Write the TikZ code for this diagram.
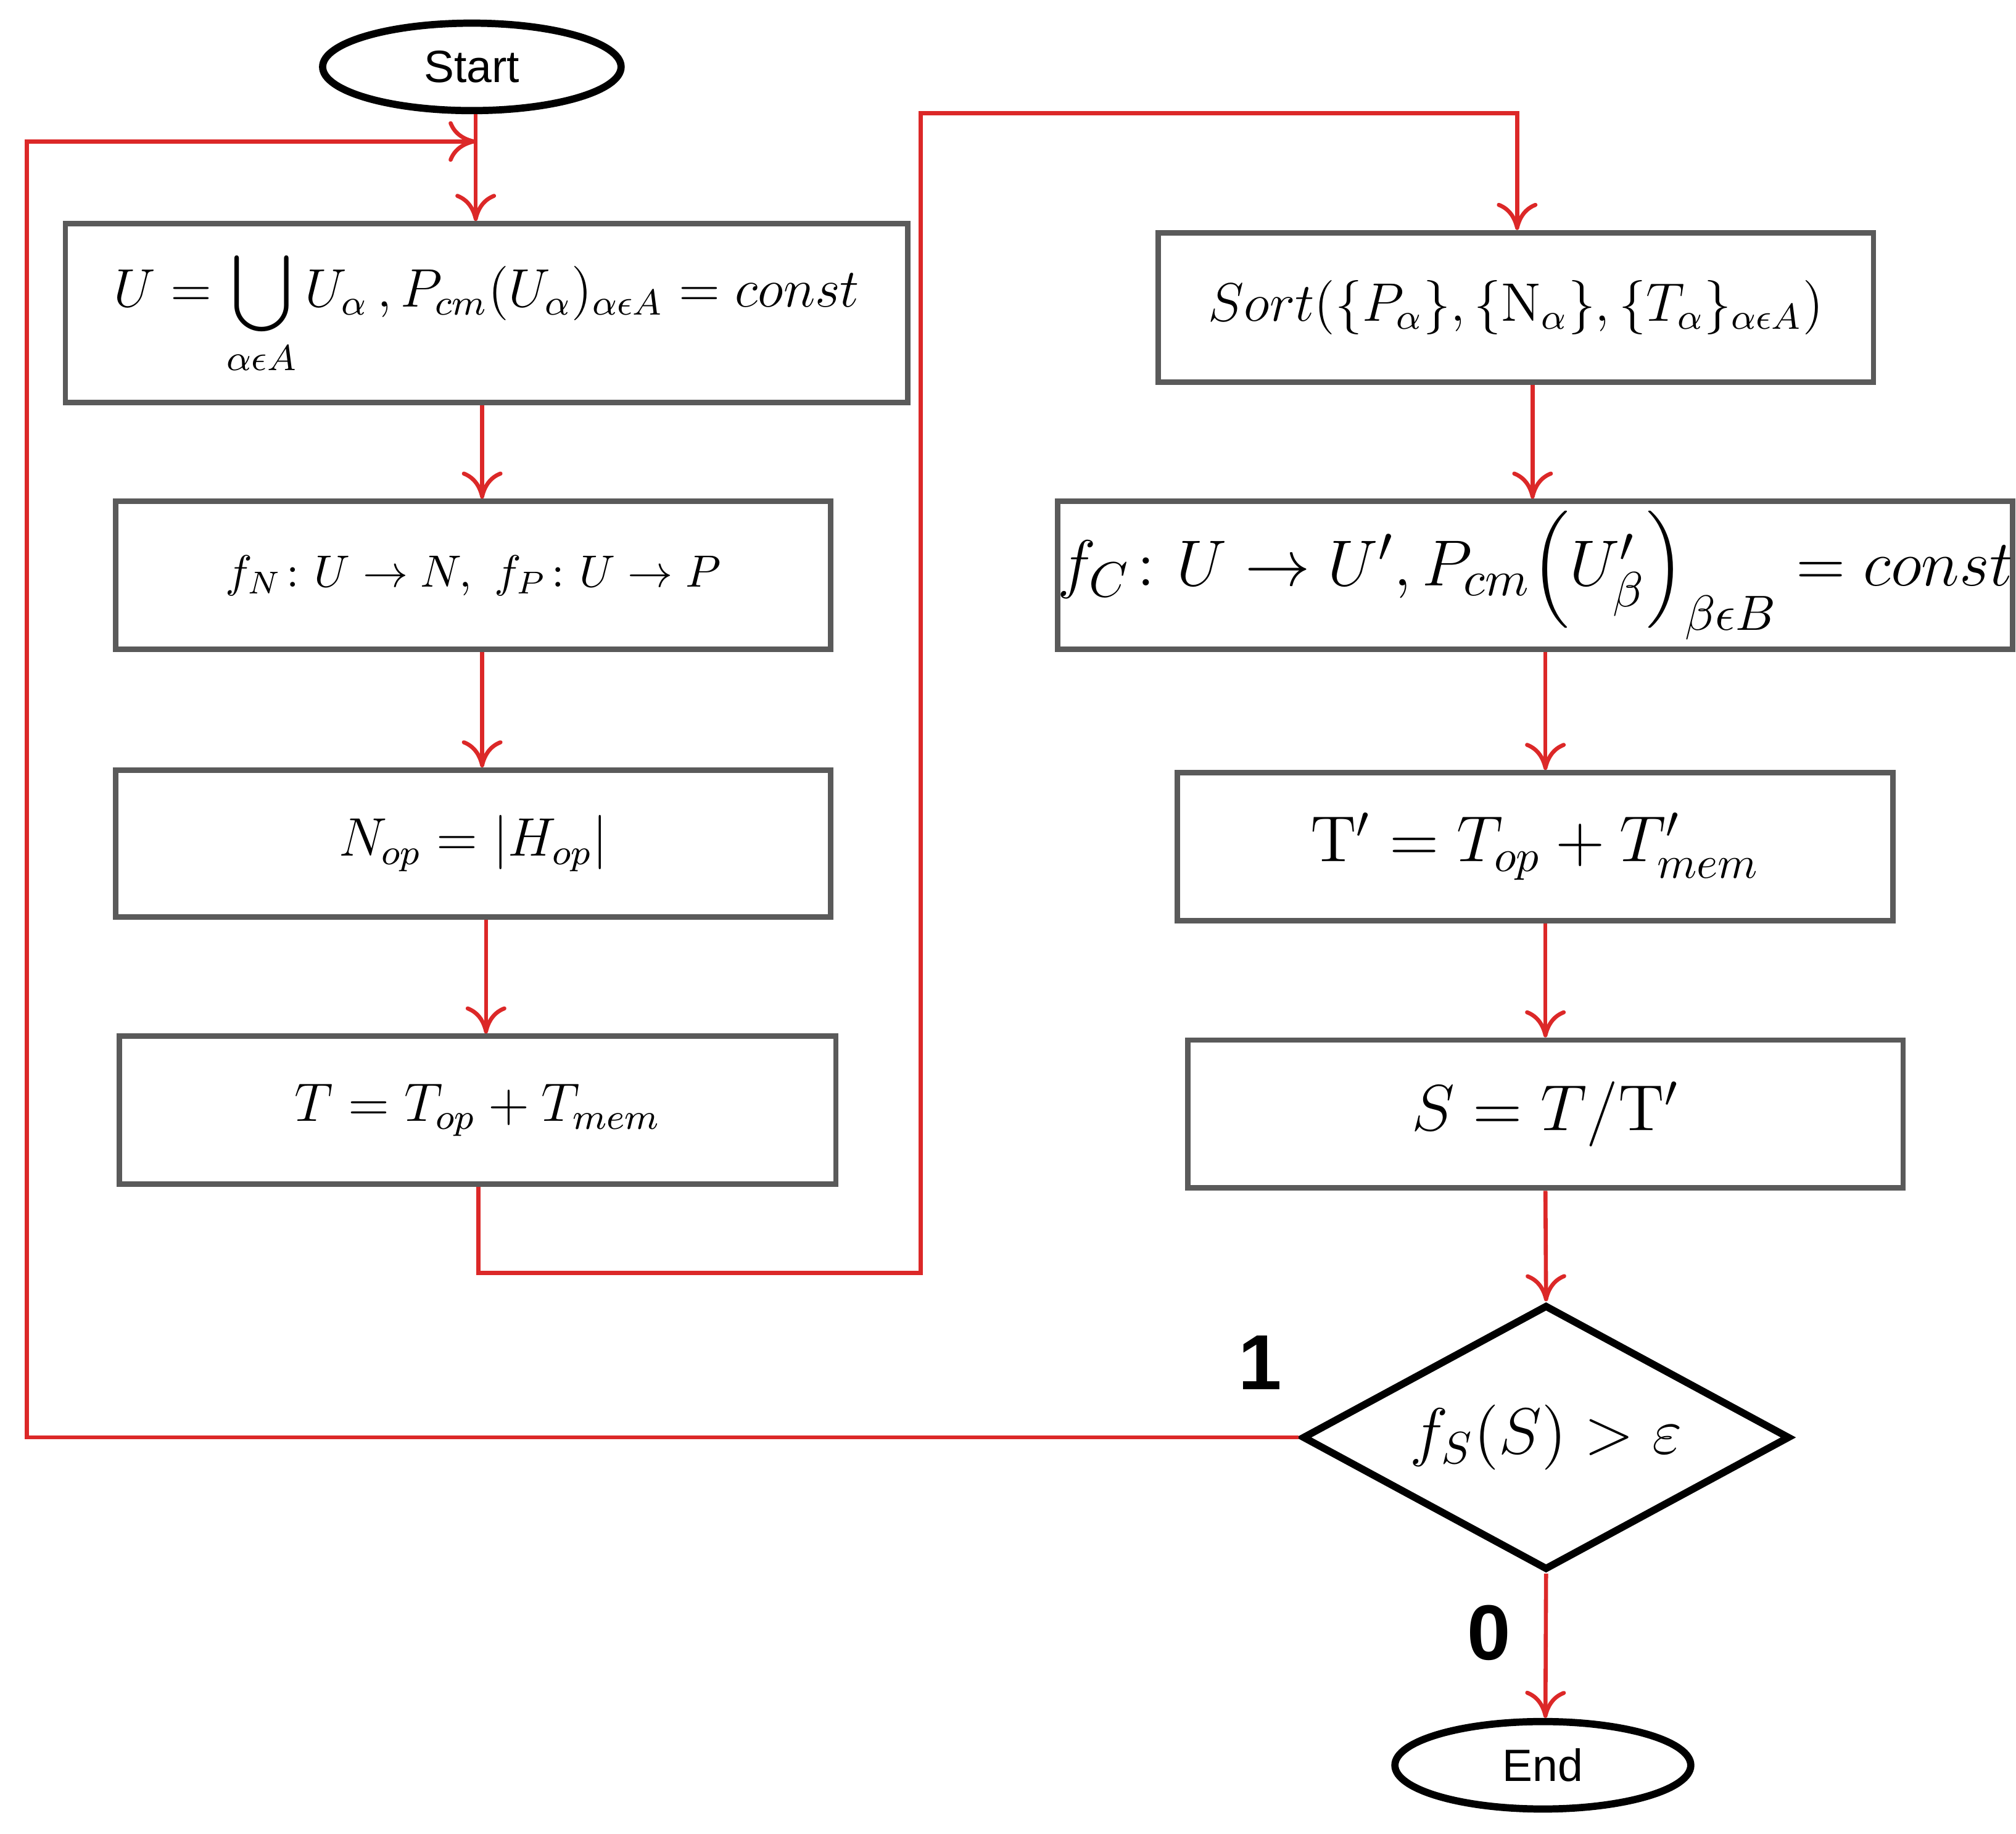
\documentclass[tikz,border=0pt]{standalone}
\usepackage{amsmath}
\usepackage{fontspec}
\newfontfamily\arialf{Liberation Sans}
\usetikzlibrary{shapes.geometric,arrows.meta}
\definecolor{lred}{RGB}{220,40,40}
\definecolor{bgray}{RGB}{90,90,90}
\begin{document}
\begin{tikzpicture}[x=0.01cm,y=-0.01cm,
  box/.style={draw=bgray,line width=1.2pt,inner sep=0pt,font=\large},
  term/.style={draw=black,line width=1.6pt,ellipse,inner sep=0pt,font=\arialf\normalsize},
  conn/.style={draw=lred,line width=0.9pt},
  arr/.style={conn,-{To[length=6pt,width=9pt]}},
  lbl/.style={font=\arialf\bfseries\LARGE}]
\useasboundingbox (0,0) rectangle (1568,1426);
\node[term,minimum width=2.32cm,minimum height=0.68cm] (start) at (367,52) {Start};
\node[box,minimum width=6.55cm,minimum height=1.39cm] (b1) at (378.5,243.5) {$\displaystyle U=\bigcup\limits_{\alpha\epsilon A} U_\alpha\,, P_{cm}(U_\alpha)_{\alpha\epsilon A}=const$};
\node[box,font=\normalsize,minimum width=5.56cm,minimum height=1.15cm] (b2) at (368,447.5) {$f_N\colon U\to N,\ f_P\colon U\to P$};
\node[box,minimum width=5.56cm,minimum height=1.14cm] (b3) at (368,656) {$N_{op}=\left|H_{op}\right|$};
\node[box,minimum width=5.57cm,minimum height=1.15cm] (b4) at (371.5,863.5) {$T=T_{op}+T_{mem}$};
\node[box,minimum width=5.56cm,minimum height=1.16cm] (r1) at (1179,239) {$Sort(\{P_\alpha\},\{\mathrm{N}_\alpha\},\{T_\alpha\}_{\alpha\epsilon A})$};
\node[box,font=\fontsize{15.5}{18}\selectfont,minimum width=7.12cm,minimum height=1.15cm] (r2) at (1194,447.5) {$f_C\colon U\to U',P_{cm}\!\left(U'_\beta\right)_{\beta\epsilon B}=const$};
\node[box,font=\Large,minimum width=5.56cm,minimum height=1.15cm] (r3) at (1194,658.5) {$\mathrm{T}'=T_{op}+T'_{mem}$};
\node[box,font=\Large,minimum width=5.56cm,minimum height=1.15cm] (r4) at (1202,866.5) {$S=T/\mathrm{T}'$};
\node[draw=black,line width=1.6pt,diamond,aspect=1.84,minimum width=3.79cm,minimum height=2.06cm,inner sep=0pt,font=\Large] (d) at (1202.5,1118) {$f_S(S)>\varepsilon$};
\node[term,minimum width=2.3cm,minimum height=0.68cm] (end) at (1200,1373) {End};
\node[lbl] (l1) at (980,1060) {1};
\node[lbl] (l0) at (1158,1270) {0};
\coordinate (c1) at (21,1118);
\coordinate (c2) at (21,110);
\coordinate (c3) at (370,110);
\draw[arr] (start.south -| 370,0) -- (b1.north -| 370,0);
\draw[arr] (d.west) -- (c1) -- (c2) -- (c3);
\draw[arr] (b1.south -| 375,0) -- (b2.north -| 375,0);
\draw[arr] (b2.south -| 375,0) -- (b3.north -| 375,0);
\draw[arr] (b3.south -| 378,0) -- (b4.north -| 378,0);
\draw[arr] (b4.south -| 372,0) -- (372,990) -- (716,990) -- (716,88) -- (1180,88) -- (r1.north -| 1180,0);
\draw[arr] (r1.south -| 1192,0) -- (r2.north -| 1192,0);
\draw[arr] (r2.south -| 1202,0) -- (r3.north -| 1202,0);
\draw[arr] (r3.south -| 1202,0) -- (r4.north -| 1202,0);
\draw[arr] (r4.south -| 1202,0) -- (d.north);
\draw[arr] (d.south) -- (end.north -| 1202,0);
\end{tikzpicture}
\end{document}
